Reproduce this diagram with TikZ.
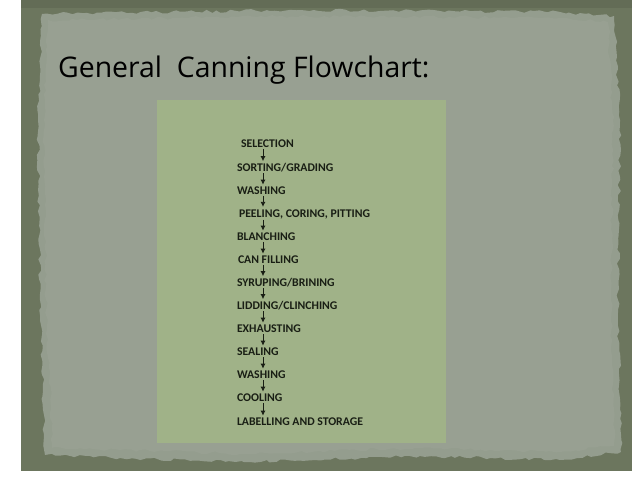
\documentclass[tikz,border=0pt]{standalone}
\usepackage{fontspec}
\setmainfont{Carlito}
\newfontfamily\titlefont{Open Sans}
\usetikzlibrary{decorations.pathmorphing,arrows.meta}
\definecolor{framec}{RGB}{108,118,94}
\definecolor{paperc}{RGB}{152,160,146}
\definecolor{boxc}{RGB}{160,178,136}
\definecolor{inkc}{RGB}{25,30,20}
\tikzset{
  step label/.style={anchor=west, inner sep=0.8pt, font=\bfseries\fontsize{11.8}{12}\selectfont, text=inkc},
  flow arrow/.style={draw=inkc, line width=0.8pt, -{Latex[length=5pt,width=5pt]}},
  torn/.style={decorate, decoration={random steps, segment length=5pt, amplitude=1.6pt}}
}
\begin{document}
\begin{tikzpicture}[x=1bp,y=-1bp]
\pgfmathsetseed{7}
\useasboundingbox (0,0) rectangle (638,478);
\fill[white] (0,0) rectangle (638,478);
% frame
\fill[framec] (21,0) rectangle (632,471);
\fill[framec!85!black, opacity=0.5] (21,0) rectangle (632,8);
% torn paper
\fill[paperc!92!framec, torn] (42,14) -- (300,10) -- (560,12) -- (614,16) -- (620,120) -- (618,300) -- (621,452) -- (560,460) -- (420,456) -- (250,462) -- (120,458) -- (45,455) -- (40,300) -- (38,120) -- cycle;
\fill[paperc, torn] (48,20) -- (300,16) -- (560,18) -- (608,22) -- (613,120) -- (611,300) -- (614,446) -- (560,452) -- (420,448) -- (250,454) -- (120,450) -- (52,448) -- (46,300) -- (44,120) -- cycle;
% title
\node[anchor=base west, inner sep=0pt, text=black, font=\titlefont\fontsize{28.5}{32}\selectfont] (title) at (58,78) {General\ \ Canning Flowchart:};
% green box
\fill[boxc] (157,100) rectangle (446,443);
\coordinate (ax) at (263,0);
\node[step label] (s1) at (240,144) {SELECTION};
\node[step label] (s2) at (236,168) {SORTING/GRADING};
\node[step label] (s3) at (236,191) {WASHING};
\node[step label] (s4) at (238,214) {PEELING, CORING, PITTING};
\node[step label] (s5) at (236,237) {BLANCHING};
\node[step label] (s6) at (237,260) {CAN FILLING};
\node[step label] (s7) at (236,283) {SYRUPING/BRINING};
\node[step label] (s8) at (236,306) {LIDDING/CLINCHING};
\node[step label] (s9) at (236,329) {EXHAUSTING};
\node[step label] (s10) at (236,352) {SEALING};
\node[step label] (s11) at (236,375) {WASHING};
\node[step label] (s12) at (236,398) {COOLING};
\node[step label] (s13) at (236,422) {LABELLING AND STORAGE};
\foreach \a/\b in {s1/s2,s2/s3,s3/s4,s4/s5,s5/s6,s6/s7,s7/s8,s8/s9,s9/s10,s10/s11,s11/s12,s12/s13}
  \draw[flow arrow] (\a.south -| ax) -- ([yshift=1.5bp]\b.north -| ax);
\end{tikzpicture}
\end{document}
